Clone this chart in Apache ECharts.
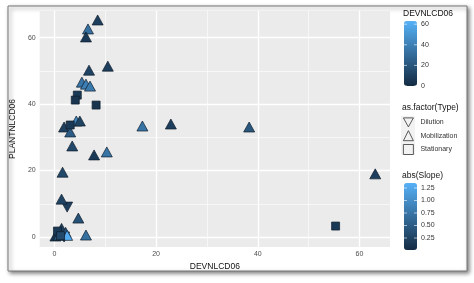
<!DOCTYPE html>
<html>
<head>
<meta charset="utf-8">
<script src="https://cdn.jsdelivr.net/npm/echarts@6/dist/echarts.min.js"></script>
<style>
html,body{margin:0;padding:0;background:#fff;}
#c{width:474px;height:283px;}
</style>
</head>
<body>
<div id="c"></div>
<script>
// ---- data ----
var devnlcd06   = [8.5, 6.6, 6.2, 10.5, 6.8, 5.4, 6.2, 7.0, 4.5, 4.1, 8.2, 1.9, 3.1, 4.3, 5.0, 3.1, 3.5, 7.8, 10.3, 1.6, 1.4, 2.5, 4.7, 6.2, 17.3, 22.9, 38.3, 63.1, 55.3, 0.2, 0.6, 1.2, 1.4, 2.2, 2.5, 0.9, 1.9];
var plantnlcd06 = [65.3, 62.6, 60.2, 51.4, 50.2, 46.6, 46.0, 45.4, 42.7, 41.2, 39.7, 33.1, 33.7, 34.9, 34.9, 31.6, 27.4, 24.7, 25.6, 19.5, 11.4, 9.0, 5.7, 0.6, 33.4, 34.0, 33.1, 19.0, 3.3, 0.3, 1.8, 0.4, 2.6, 1.4, 0.5, 0.6, 0.0];
var pointType   = ['Mobilization','Mobilization','Mobilization','Mobilization','Mobilization','Mobilization','Mobilization','Mobilization','Stationary','Stationary','Stationary','Mobilization','Stationary','Mobilization','Mobilization','Mobilization','Mobilization','Mobilization','Mobilization','Mobilization','Mobilization','Dilution','Mobilization','Mobilization','Mobilization','Mobilization','Mobilization','Mobilization','Stationary','Mobilization','Stationary','Stationary','Mobilization','Mobilization','Mobilization','Mobilization','Dilution'];
var absSlope    = [0.2, 0.7, 0.15, 0.2, 0.25, 0.75, 0.85, 0.8, 0.15, 0.1, 0.1, 0.2, 0.15, 0.9, 0.25, 0.5, 0.3, 0.15, 0.75, 0.3, 0.25, 0.2, 0.4, 0.7, 0.75, 0.2, 0.45, 0.2, 0.15, 0.1, 0.15, 0.3, 0.2, 0.4, 1.3, 0.5, 0.15];
var typeLevels  = ['Dilution', 'Mobilization', 'Stationary'];
var axisTicks   = [0, 20, 40, 60];
var minorTicks  = [10, 30, 50];
var devTicks    = [0, 20, 40, 60];
var slopeTicks  = [0.25, 0.50, 0.75, 1.00, 1.25];
var devRange    = [0, 63.1];
var slopeRange  = [0.01, 1.35];

// ---- build chart ----
var LOW = '#132B43', HIGH = '#56B1F7';
var downTri = 'path://M0,0L10,0L5,9Z';
var symbols = {Dilution: downTri, Mobilization: 'triangle', Stationary: 'rect'};
var sizes = {Dilution: [11, 10], Mobilization: [11, 10], Stationary: [8, 8]};

var series = [];
var gridLines = [];
axisTicks.forEach(function (v) { gridLines.push({xAxis: v, lineStyle: {width: 1.3}}); gridLines.push({yAxis: v, lineStyle: {width: 1.3}}); });
minorTicks.forEach(function (v) { gridLines.push({xAxis: v, lineStyle: {width: 0.6}}); gridLines.push({yAxis: v, lineStyle: {width: 0.6}}); });
series.push({
  type: 'scatter', data: [], silent: true,
  markLine: {silent: true, symbol: ['none', 'none'], label: {show: false}, animation: false,
    lineStyle: {color: '#ffffff', type: 'solid'}, data: gridLines}
});
typeLevels.forEach(function (t) {
  var d = [];
  for (var i = 0; i < devnlcd06.length; i++) {
    if (pointType[i] === t) d.push([devnlcd06[i], plantnlcd06[i], absSlope[i]]);
  }
  series.push({
    name: t, type: 'scatter', zlevel: 1, symbol: symbols[t], symbolSize: sizes[t],
    itemStyle: {borderColor: '#0e1c2b', borderWidth: 0.7, opacity: 1},
    data: d
  });
});
series.push({type: 'scatter', data: [], silent: true});

var graphics = [{
  type: 'rect', z: -10, silent: true,
  shape: {x: 8, y: 6, width: 459, height: 265},
  style: {fill: '#ffffff', stroke: '#777777', lineWidth: 1,
    shadowBlur: 4, shadowColor: 'rgba(0,0,0,0.5)', shadowOffsetX: 2, shadowOffsetY: 2}
}];
function txt(x, y, s, size, color, align) {
  graphics.push({type: 'text', x: x, y: y, silent: true,
    style: {text: s, fontSize: size, fill: color || '#222', fontFamily: 'Liberation Sans, Arial, sans-serif',
      align: align || 'left', verticalAlign: 'middle'}});
}
txt(403, 14, 'DEVNLCD06', 8.5, '#111');
txt(402, 108, 'as.factor(Type)', 8.5, '#111');
txt(402, 176, 'abs(Slope)', 8.5, '#111');
var dev = {top: 21, bottom: 86};
devTicks.forEach(function (v) {
  var y = dev.bottom - (v - devRange[0]) / (devRange[1] - devRange[0]) * (dev.bottom - dev.top);
  txt(421, y, String(v), 7, '#333');
  graphics.push({type: 'line', silent: true, z: 100, shape: {x1: 404, y1: y, x2: 407, y2: y}, style: {stroke: '#ffffff', lineWidth: 0.6}});
  graphics.push({type: 'line', silent: true, z: 100, shape: {x1: 414, y1: y, x2: 417, y2: y}, style: {stroke: '#ffffff', lineWidth: 0.6}});
});
var sl = {top: 183, bottom: 250};
slopeTicks.forEach(function (v) {
  var y = sl.bottom - (v - slopeRange[0]) / (slopeRange[1] - slopeRange[0]) * (sl.bottom - sl.top);
  txt(421, y, v.toFixed(2), 7, '#333');
  graphics.push({type: 'line', silent: true, z: 100, shape: {x1: 404, y1: y, x2: 407, y2: y}, style: {stroke: '#ffffff', lineWidth: 0.6}});
  graphics.push({type: 'line', silent: true, z: 100, shape: {x1: 414, y1: y, x2: 417, y2: y}, style: {stroke: '#ffffff', lineWidth: 0.6}});
});
[0, 1, 2].forEach(function (k) {
  graphics.push({type: 'rect', silent: true, z: -1, shape: {x: 401, y: 116 + k * 13, width: 14, height: 13}, style: {fill: '#F2F2F2'}});
});

var axisFont = {fontSize: 7, color: '#4D4D4D', fontFamily: 'Liberation Sans, Arial, sans-serif'};
var option = {
  animation: false,
  textStyle: {fontFamily: 'Liberation Sans, Arial, sans-serif'},
  grid: {left: 35, top: 11, width: 355, height: 236, show: true, backgroundColor: '#EBEBEB', borderWidth: 0},
  xAxis: {
    type: 'value', min: -2.9, max: 66.0,
    name: 'DEVNLCD06', nameLocation: 'middle', nameGap: 13,
    nameTextStyle: {fontSize: 8.5, color: '#111'},
    axisLine: {show: false},
    axisTick: {show: true, length: 2.5, customValues: axisTicks, lineStyle: {color: '#333', width: 0.6}},
    axisLabel: Object.assign({customValues: axisTicks, margin: 3.5}, axisFont),
    splitLine: {show: false}
  },
  yAxis: {
    type: 'value', min: -3.0, max: 68.0,
    name: 'PLANTNLCD06', nameLocation: 'middle', nameGap: 19,
    nameTextStyle: {fontSize: 8.5, color: '#111'},
    axisLine: {show: false},
    axisTick: {show: true, length: 2.5, customValues: axisTicks, lineStyle: {color: '#333', width: 0.6}},
    axisLabel: Object.assign({customValues: axisTicks, margin: 4}, axisFont),
    splitLine: {show: false}
  },
  legend: {
    orient: 'vertical', left: 403, top: 117.5, padding: 0, itemGap: 3,
    itemWidth: 10, itemHeight: 10, selectedMode: false,
    textStyle: {fontSize: 7, color: '#333', padding: [0, 0, 0, 2]},
    data: [
      {name: 'Dilution', icon: downTri, itemStyle: {color: 'rgba(0,0,0,0)', borderColor: '#333', borderWidth: 0.8}},
      {name: 'Mobilization', icon: 'triangle', itemStyle: {color: 'rgba(0,0,0,0)', borderColor: '#333', borderWidth: 0.8}},
      {name: 'Stationary', icon: 'rect', itemStyle: {color: 'rgba(0,0,0,0)', borderColor: '#333', borderWidth: 0.8}}
    ]
  },
  visualMap: [
    {type: 'continuous', min: devRange[0], max: devRange[1], dimension: 0, seriesIndex: 4,
      left: 404, top: 21, itemWidth: 13, itemHeight: 65, padding: 0, calculable: false,
      showLabel: false, text: null, inRange: {color: [LOW, HIGH]}},
    {type: 'continuous', min: slopeRange[0], max: slopeRange[1], dimension: 2, seriesIndex: [1, 2, 3],
      left: 404, top: 183, itemWidth: 13, itemHeight: 67, padding: 0, calculable: false,
      showLabel: false, text: null, inRange: {color: [LOW, HIGH]}}
  ],
  graphic: graphics,
  series: series
};
var chart = echarts.init(document.getElementById('c'), null, {renderer: 'canvas'});
chart.setOption(option);
</script>
</body>
</html>
